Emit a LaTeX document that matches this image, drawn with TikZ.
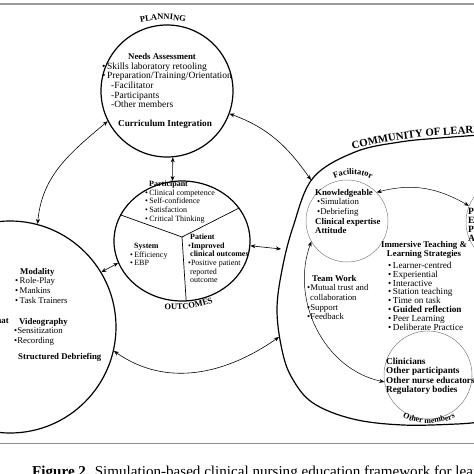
\documentclass[tikz,border=0pt]{standalone}
\usepackage{fontspec}
\setmainfont{Liberation Serif}
\usetikzlibrary{positioning, arrows.meta, shapes.geometric, decorations.text}

\begin{document}
\begin{tikzpicture}[x=1pt, y=-1pt,
    ring/.style={circle, draw=black, line width=1.2pt, inner sep=0pt},
    subring/.style={circle, draw=black!50, line width=0.5pt, inner sep=0pt},
    body/.style={font=\fontsize{8.8}{9.6}\selectfont, align=left, inner sep=0pt, anchor=north west},
    head/.style={font=\fontsize{8.8}{9.6}\selectfont\bfseries, align=center, inner sep=0pt, anchor=north},
    small/.style={body, font=\fontsize{8}{8.6}\selectfont},
    link/.style={{Stealth[length=5pt,width=4pt]}-{Stealth[length=5pt,width=4pt]}, line width=0.6pt}
]
\useasboundingbox (0,0) rectangle (474,474);

% Frame lines and caption
\draw[black!40, line width=1.5pt] (0,4) -- (474,4);
\draw[black!45, line width=0.8pt] (0,443) -- (474,443);
\node[anchor=base west, inner sep=0pt, font=\fontsize{15.1}{16}\selectfont] (caption) at (32,476.5) {\textbf{Figure 2.} Simulation-based clinical nursing education framework for learning};

% Main rings
\node[ring, minimum size=132] (plan) at (167,91) {};
\node[ring, ellipse, minimum width=136, minimum height=120] (outc) at (182,241) {};
\node[ring, minimum size=212] (impl) at (10,327) {};
\node[subring, minimum size=82] (facil) at (347,221) {};
\node[subring, minimum size=88] (others) at (428,375) {};
\node[subring, minimum size=86] (traitring) at (509,222) {};

% Community of learning
\draw[line width=1.2pt] plot[smooth, tension=0.6] coordinates {(480,135) (440,138) (400,142) (355,152) (313,178) (293,227) (282,270) (277,310) (282,350) (292,378) (313,403) (353,419) (403,425) (457,424) (480,422)};
\coordinate (comA) at (311,180);
\coordinate (comB) at (281,249);
\coordinate (comC) at (279,337);

% Ring titles
\path[decorate, decoration={text along path, text align=center, text={|\fontsize{8.5}{8.5}\selectfont\bfseries|PLANNING}}] (132,25) .. controls (150,18) and (176,18) .. (194,25);
\path[decorate, decoration={text along path, text align=left, text={|\fontsize{10.8}{10.8}\selectfont\bfseries|COMMUNITY OF LEARNING}}] (353,150) .. controls (385,140) and (430,134) .. (505,132);
\path[decorate, decoration={text along path, text align=center, text={|\fontsize{8.5}{8.5}\selectfont\bfseries|Facilitator}}] (324,185) .. controls (340,171) and (364,171) .. (382,185);
\path[decorate, decoration={text along path, text align=center, text={|\fontsize{8.5}{8.5}\selectfont\bfseries|OUTCOMES}}] (155,308) .. controls (175,312) and (200,309) .. (222,299);
\path[decorate, decoration={text along path, text align=center, text={|\fontsize{8}{8}\selectfont\bfseries|Other members}}] (394,413) .. controls (413,426) and (442,427) .. (464,413);

% Planning
\node[head] (needs) at (162,53) {Needs Assessment};
\node[body, font=\fontsize{9.5}{9.6}\selectfont] (prep) at (102,62.5) {\textbullet\,Skills laboratory retooling\\ \textbullet\,Preparation/Training/Orientation\\ \hspace{9pt}-Facilitator\\ \hspace{9pt}-Participants\\ \hspace{9pt}-Other members};
\node[head, font=\fontsize{9.2}{9.6}\selectfont\bfseries] (curric) at (165,120) {Curriculum Integration};

% Outcomes
\draw[line width=0.7pt] (182,237) coordinate (hub) -- (outc.157);
\draw[line width=0.7pt] (hub) -- (outc.30);
\draw[line width=0.7pt] (hub) -- (outc.-86);
\node[small] (partic) at (145,181) {\hspace{4pt}\textbf{Participant}\\ \textbullet\,Clinical competence\\ \textbullet\,Self-confidence\\ \textbullet\,Satisfaction\\ \textbullet\,Critical Thinking};
\node[small] (system) at (130,243) {\hspace{4pt}\textbf{System}\\ \textbullet\,Efficiency\\ \textbullet\,EBP};
\node[small] (patient) at (188,234) {\hspace{2pt}\textbf{Patient}\\ \textbullet\textbf{Improved}\\ \hspace{2pt}\textbf{clinical outcomes}\\ \textbullet Positive patient\\ \hspace{2pt}reported\\ \hspace{2pt}outcome};

% Implementation
\node[body, anchor=north east] (format) at (9,318) {\textbf{Format}};
\node[body] (modal) at (15,268) {\hspace{5pt}\textbf{Modality}\\ \textbullet\,Role-Play\\ \textbullet\,Mankins\\ \textbullet\,Task Trainers};
\node[body] (video) at (14,318) {\hspace{5pt}\textbf{Videography}\\ \textbullet Sensitization\\ \textbullet Recording};
\node[body] (debrief) at (18,353) {\textbf{Structured Debriefing}};

% Community members
\node[body] (knowl) at (315,189) {\textbf{Knowledgeable}\\ \hspace{2pt}\textbullet Simulation\\ \hspace{2pt}\textbullet Debriefing\\ \textbf{Clinical expertise}\\ \textbf{Attitude}};
\node[head, font=\fontsize{8.8}{9.3}\selectfont\bfseries] (immers) at (424,241) {Immersive Teaching \&\\ Learning Strategies};
\node[body, font=\fontsize{9.2}{8.8}\selectfont] (strat) at (388,262) {\textbullet\,Learner-centred\\ \textbullet\,Experiential\\ \textbullet\,Interactive\\ \textbullet\,Station teaching\\ \textbullet\,Time on task\\ \textbullet\,\textbf{Guided reflection}\\ \textbullet\,Peer Learning\\ \textbullet\,Deliberate Practice};
\node[body] (team) at (307,275) {\hspace{5pt}\textbf{Team Work}\\ \textbullet Mutual trust and\\ \hspace{3pt}collaboration\\ \textbullet Support\\ \textbullet Feedback};
\node[body, font=\fontsize{9.6}{8.2}\selectfont\bfseries] (traits) at (468,208) {Passion\\ Empathy\\ Professionalism\\ Attitude};
\node[body, font=\fontsize{9.2}{9.3}\selectfont\bfseries] (members) at (386,358) {Clinicians\\ Other participants\\ Other nurse educators\\ Regulatory bodies};

% Connections
\draw[link] (plan.-85) -- (outc.99);
\draw[link] (impl.31) -- (outc.199);
\draw[link] (outc.-4) -- (comB);
\draw[link] (plan.-20) to[out=-20, in=125] (comA);
\draw[link] (plan.207) to[out=220, in=85] (impl.75);
\draw[link] (impl.-13) to[out=-35, in=215] (comC);
\draw[link, line width=0.5pt] (facil.44) to[out=15, in=150] (traitring.158);
\draw[link, line width=0.5pt] (facil.210) to[out=250, in=168] (others.189);

\end{tikzpicture}
\end{document}
